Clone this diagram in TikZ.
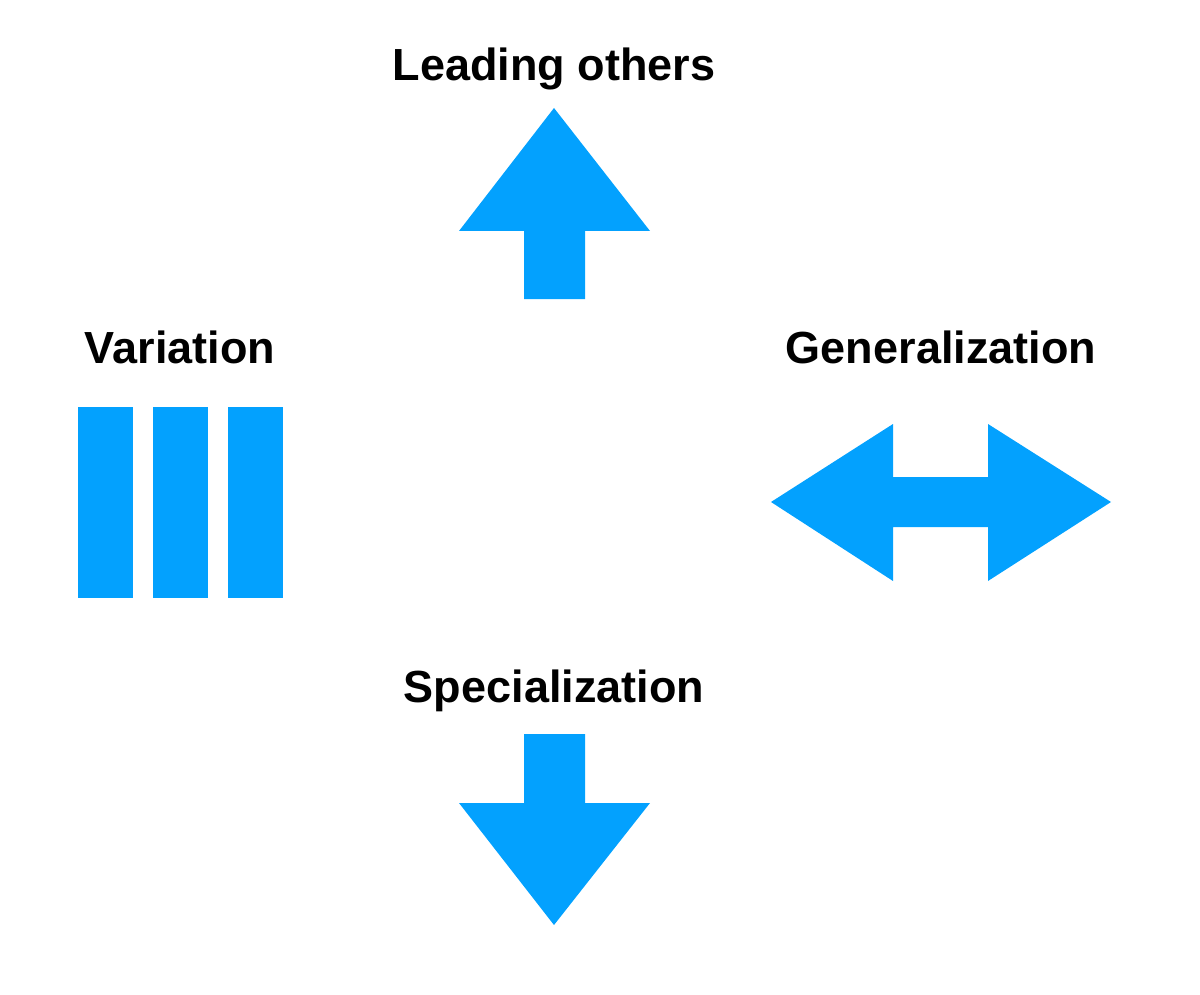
\documentclass[tikz,border=0pt]{standalone}
\usepackage{fontspec}
\setmainfont{Liberation Sans}
\definecolor{blu}{HTML}{03A1FE}
\begin{document}
\begin{tikzpicture}[x=1pt,y=-1pt,
  shp/.style={fill=blu,draw=none},
  lbl/.style={font=\bfseries\fontsize{45}{54}\selectfont,text=black,inner sep=0pt}]
\useasboundingbox (0,0) rectangle (1200,995);
\node[lbl] (lead) at (554,69) {Leading others};
\node[lbl] (var) at (180,347) {Variation};
\node[lbl] (gen) at (941,347) {Generalization};
\node[lbl] (spec) at (554,691) {Specialization};
\fill[shp] (554,108) -- (650,231) -- (585,231) -- (585,299) -- (524,299) -- (524,231) -- (459,231) -- cycle;
\fill[shp] (554,925) -- (650,803) -- (585,803) -- (585,734) -- (524,734) -- (524,803) -- (459,803) -- cycle;
\fill[shp] (78,407) rectangle (133,598);
\fill[shp] (153,407) rectangle (208,598);
\fill[shp] (228,407) rectangle (283,598);
\fill[shp] (771,502) -- (893,424) -- (893,477) -- (988,477) -- (988,424) -- (1111,502) -- (988,581) -- (988,527) -- (893,527) -- (893,581) -- cycle;
\end{tikzpicture}
\end{document}
